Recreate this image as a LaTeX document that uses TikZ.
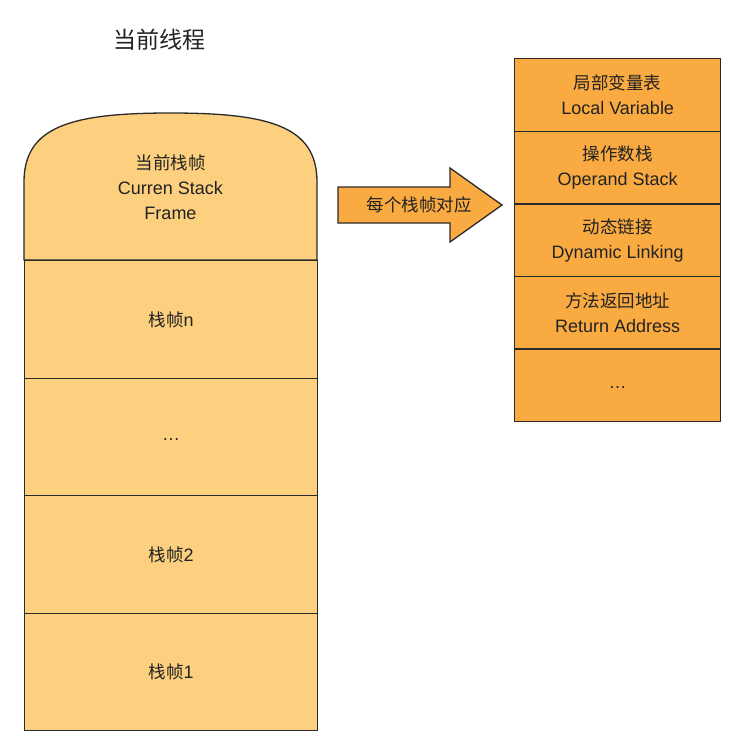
\documentclass[tikz,border=0pt]{standalone}
\usepackage{fontspec}
\setmainfont{Liberation Sans}
\newfontfamily\cjk{Noto Sans CJK SC}
\definecolor{stackfill}{HTML}{FCD07F}
\definecolor{framefill}{HTML}{F9AB42}
\definecolor{edge}{HTML}{2A2A2A}
\definecolor{txt}{HTML}{222222}
\newcommand{\zh}[1]{{\cjk\fontsize{17.5}{25}\selectfont #1}}
\newcommand{\en}[1]{{\fontsize{18}{25}\selectfont #1}}
\begin{document}
\begin{tikzpicture}[x=1pt,y=-1pt,
  every node/.style={font=\fontsize{18}{25}\selectfont},
  stackrow/.style={draw=edge, line width=1.3pt, fill=stackfill, minimum width=293pt, minimum height=117.5pt, inner sep=0pt, text=txt, align=center, anchor=north west},
  framerow/.style={draw=edge, line width=1.3pt, fill=framefill, minimum width=206pt, minimum height=72.6pt, inner sep=0pt, text=txt, align=center, anchor=north west},
  lbl/.style={text=txt, align=center, inner sep=0pt}]
\useasboundingbox (0,0) rectangle (737,744);
% title
\node[lbl] (title) at (159,40) {{\cjk\fontsize{23}{28}\selectfont 当前线程}};
% dome (current frame)
\draw[draw=edge, line width=1.3pt, fill=stackfill] (24,260) -- (24,182) .. controls (24,126) and (72,113) .. (170.5,113) .. controls (269,113) and (317,126) .. (317,182) -- (317,260) -- cycle;
\node[lbl] (cur) at (170.5,187) {\zh{当前栈帧}\\\en{Curren Stack}\\\en{Frame}};
% stack rows
\node[stackrow] (sn) at (24,260) {\zh{栈帧}\en{n}};
\node[stackrow] (sdots) at (24,377.5) {\raisebox{-4pt}[0pt][0pt]{\en{\ldots}}};
\node[stackrow] (s2) at (24,495) {\zh{栈帧}\en{2}};
\node[stackrow] (s1) at (24,612.5) {\zh{栈帧}\en{1}};
% arrow
\draw[draw=edge, line width=1.3pt, fill=framefill] (338,187) -- (450,187) -- (450,168) -- (502,205) -- (450,242) -- (450,223) -- (338,223) -- cycle;
\node[lbl] (arr) at (419,205) {\zh{每个栈帧对应}};
% frame contents
\node[framerow] (lv) at (514,58) {\zh{局部变量表}\\\en{Local Variable}};
\node[framerow] (os) at (514,130.6) {\zh{操作数栈}\\\en{Operand Stack}};
\node[framerow] (dl) at (514,203.2) {\zh{动态链接}\\\en{Dynamic Linking}};
\node[framerow] (ra) at (514,275.8) {\zh{方法返回地址}\\\en{Return Address}};
\node[framerow] (fdots) at (514,348.4) {\raisebox{-3pt}[0pt][0pt]{\en{\ldots}}};
\end{tikzpicture}
\end{document}
